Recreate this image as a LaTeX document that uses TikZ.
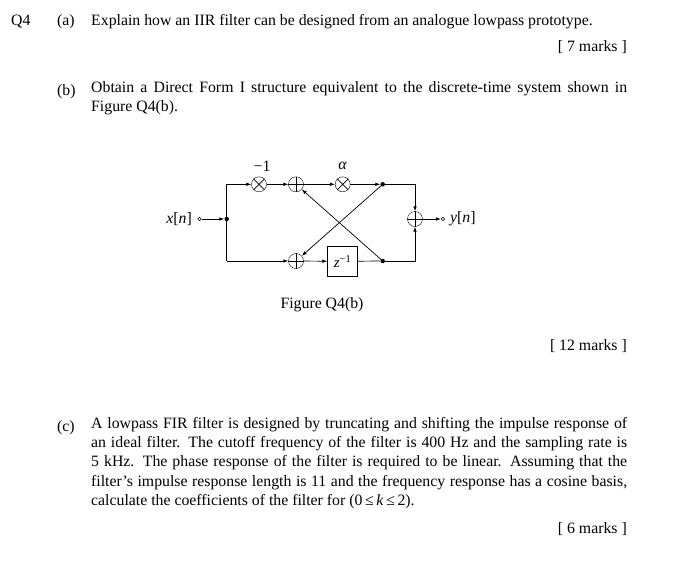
\documentclass[tikz,border=0pt]{standalone}
\usepackage{fontspec}
\setmainfont{Liberation Serif}
\usetikzlibrary{arrows.meta}
\begin{document}
\begin{tikzpicture}[x=1pt,y=-1pt,
  txt/.style={inner sep=0pt,anchor=base west,font=\fontsize{15.8}{19.3}\selectfont},
  par/.style={txt,text width=536pt,align=justify,anchor=north west},
  sw/.style={draw,circle,minimum size=15pt,inner sep=0pt},
  sig/.style={-{Latex[length=5pt,width=3.5pt]},line width=0.7pt},
  ln/.style={line width=0.7pt},
  dot/.style={circle,fill,inner sep=0pt,minimum size=4.5pt},
  term/.style={circle,draw,inner sep=0pt,minimum size=3.5pt,line width=0.6pt}]
\useasboundingbox (0,0) rectangle (679,566);
% text
\node[txt] (q) at (11,25) {Q4};
\node[txt] (pa) at (57,25) {(a)};
\node[txt] (ta) at (91,25) {Explain how an IIR filter can be designed from an analogue lowpass prototype.};
\node[txt,anchor=base east] (ma) at (627,51) {[ 7 marks ]};
\node[txt] (pb) at (57,95) {(b)};
\node[par] (tb) at (91,81) {Obtain a Direct Form I structure equivalent to the discrete-time system shown in \mbox{Figure} Q4(b).};
\node[txt,anchor=base] (cap) at (322,308) {Figure Q4(b)};
\node[txt,anchor=base east] (mb) at (627,350) {[ 12 marks ]};
\node[txt] (pc) at (57,431) {(c)};
\node[par] (tc) at (91,417) {A lowpass FIR filter is designed by truncating and shifting the impulse response of an ideal filter. The cutoff frequency of the filter is 400 Hz and the sampling rate is 5 kHz. The phase response of the filter is required to be linear. Assuming that the filter's impulse response length is 11 and the frequency response has a cosine basis, calculate the coefficients of the filter for (0\,≤\,\textit{k}\,≤\,2).};
\node[txt,anchor=base east] (mc) at (627,533) {[ 6 marks ]};
% diagram
\node[term] (in) at (199.5,219) {};
\node[anchor=east,inner sep=1pt,font=\fontsize{15.8}{18}\selectfont] (xl) at (193,219) {\textit{x}[\textit{n}]};
\node[dot] (sp) at (226.7,219) {};
\coordinate (tl) at (226.7,184.3);
\coordinate (bl) at (226.7,261);
\node[sw] (m1) at (259,184.3) {};
\draw[ln] (m1.north west)--(m1.south east) (m1.north east)--(m1.south west);
\node[sw] (a1) at (296,184.3) {};
\draw[ln] (a1.north)--(a1.south) (a1.west)--(a1.east);
\node[sw] (m2) at (342.7,184.3) {};
\draw[ln] (m2.north west)--(m2.south east) (m2.north east)--(m2.south west);
\node[dot] (td) at (382.7,184.3) {};
\coordinate (tr) at (415,184.3);
\node[sw] (ao) at (415,219) {};
\draw[ln] (ao.north)--(ao.south) (ao.west)--(ao.east);
\node[term] (out) at (443,219) {};
\node[anchor=west,inner sep=1pt,font=\fontsize{15.8}{18}\selectfont] (yl) at (449,219) {\textit{y}[\textit{n}]};
\node[sw] (a2) at (296,261) {};
\draw[ln] (a2.north)--(a2.south) (a2.west)--(a2.east);
\node[draw,line width=0.7pt,minimum width=29.6pt,minimum height=29.3pt,inner sep=0pt,font=\fontsize{15}{15}\selectfont] (z) at (342.5,261.3) {\textit{z}\textsuperscript{−1}};
\node[dot] (bd) at (382.7,261) {};
\coordinate (br) at (415,261);
\node[font=\fontsize{15.8}{16}\selectfont] (l1) at (262,166) {−1};
\node[font=\fontsize{15.8}{16}\selectfont] (l2) at (342.7,166) {\textit{α}};
\draw[sig] (in)--(sp);
\draw[ln] (tl)--(bl);
\draw[sig] (tl)--(m1);
\draw[sig] (m1)--(a1);
\draw[sig] (a1)--(m2);
\draw[sig] (m2)--(td);
\draw[sig] (td.center)--(tr)--(ao);
\draw[sig] (bl)--(a2);
\draw[sig] (a2)--(z);
\draw[ln] (z)--(bd);
\draw[sig] (bd.center)--(br)--(ao);
\draw[sig] (ao)--(out);
\draw[sig] (td.center)--(a2);
\draw[sig] (bd.center)--(a1);
\end{tikzpicture}
\end{document}
